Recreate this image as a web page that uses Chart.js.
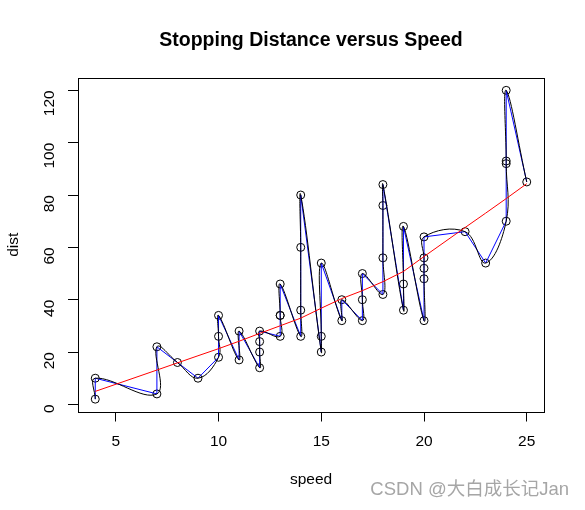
<!DOCTYPE html>
<html><head><meta charset="utf-8">
<script src="https://cdn.jsdelivr.net/npm/chart.js@4.4.1/dist/chart.umd.min.js"></script>
<style>html,body{margin:0;padding:0;background:#fff}#wrap{width:585px;height:510px;position:relative}</style>
</head><body><div id="wrap"><canvas id="c" width="585" height="510"></canvas></div>
<script>
const speed = [4,4,7,7,8,9,10,10,10,11,11,12,12,12,12,13,13,13,13,14,14,14,14,15,15,15,16,16,17,17,17,18,18,18,18,19,19,19,20,20,20,20,20,22,23,24,24,24,24,25];
const dist = [2,10,4,22,16,10,18,26,34,17,28,14,20,24,28,26,34,34,46,26,36,60,80,20,26,54,32,40,32,40,50,42,56,76,84,36,46,68,32,48,52,56,64,66,54,70,92,93,120,85];
const lowessX = [4,7,8,9,10,11,12,13,14,15,16,17,18,19,20,22,23,24,25];
const lowessY = [4.97,13.12,15.86,18.58,21.28,24.13,27.12,30.03,32.96,36.76,40.44,43.46,46.89,50.79,56.49,67.59,73.08,78.64,84.33];
const xTicks = [5,10,15,20,25];
const yTicks = [0,20,40,60,80,100,120];
const titleText = 'Stopping Distance versus Speed';
const xTitle = 'speed';
const yTitle = 'dist';
const watermark = 'CSDN @大白成长记Jan';

const pts = speed.map((s,i)=>({x:s,y:dist[i]}));
const lw = lowessX.map((s,i)=>({x:s,y:lowessY[i]}));
const FONT = '"Liberation Sans", Arial, sans-serif';

const extras = {
  id:'extras',
  afterDraw(chart){
    const ctx = chart.ctx, a = chart.chartArea;
    ctx.save();
    ctx.strokeStyle = '#000'; ctx.lineWidth = 1;
    ctx.strokeRect(Math.round(a.left)+0.5, Math.round(a.top)+0.5, Math.round(a.right-a.left), Math.round(a.bottom-a.top));
    ctx.fillStyle = '#000';
    ctx.textAlign = 'center'; ctx.textBaseline = 'middle';
    ctx.font = 'bold 19.5px ' + FONT;
    ctx.fillText(titleText, (a.left+a.right)/2, 41);
    ctx.font = '15.5px ' + FONT;
    ctx.fillText(xTitle, (a.left+a.right)/2, 480);
    ctx.save();
    ctx.translate(14, (a.top+a.bottom)/2);
    ctx.rotate(-Math.PI/2);
    ctx.fillText(yTitle, 0, 0);
    ctx.restore();
    ctx.font = '18.5px ' + FONT + ', "Noto Sans CJK SC"';
    ctx.fillStyle = '#a6a6a6';
    ctx.textAlign = 'right';
    ctx.fillText(watermark, 569, 490);
    ctx.restore();
  }
};

new Chart(document.getElementById('c'), {
  type:'scatter',
  data:{datasets:[
    {label:'lowess', data:lw, showLine:true, borderColor:'#ff0000', borderWidth:1, pointRadius:0, order:1},
    {label:'order', data:pts, showLine:true, borderColor:'#0000ff', borderWidth:1, pointRadius:0, order:3},
    {label:'smooth', data:pts, showLine:true, borderColor:'#000000', borderWidth:1, pointRadius:0, tension:0.4, order:2},
    {label:'points', data:pts, showLine:false, borderColor:'#000', backgroundColor:'rgba(0,0,0,0)', borderWidth:1, pointRadius:4, pointHoverRadius:4, order:4}
  ]},
  options:{
    responsive:false, animation:false, devicePixelRatio:1,
    layout:{padding:{top:78,right:41,bottom:0,left:0}},
    plugins:{legend:{display:false},title:{display:false},tooltip:{enabled:false}},
    scales:{
      x:{type:'linear', min:3.16, max:25.84,
        afterBuildTicks(s){s.ticks = xTicks.map(v=>({value:v}));},
        afterFit(s){s.height = 98.5;},
        grid:{drawOnChartArea:false, tickLength:10, color:'#000', tickColor:'#000'},
        border:{display:false},
        ticks:{color:'#000', font:{family:FONT,size:15.5}, padding:11, maxRotation:0, autoSkip:false}
      },
      y:{type:'linear', min:-2.72, max:124.72,
        afterBuildTicks(s){s.ticks = yTicks.map(v=>({value:v}));},
        afterFit(s){s.width = 78;},
        grid:{drawOnChartArea:false, tickLength:10, color:'#000', tickColor:'#000'},
        border:{display:false},
        ticks:{color:'#000', font:{family:FONT,size:15.5}, padding:18, minRotation:90, maxRotation:90, autoSkip:false}
      }
    }
  },
  plugins:[extras]
});
</script></body></html>
